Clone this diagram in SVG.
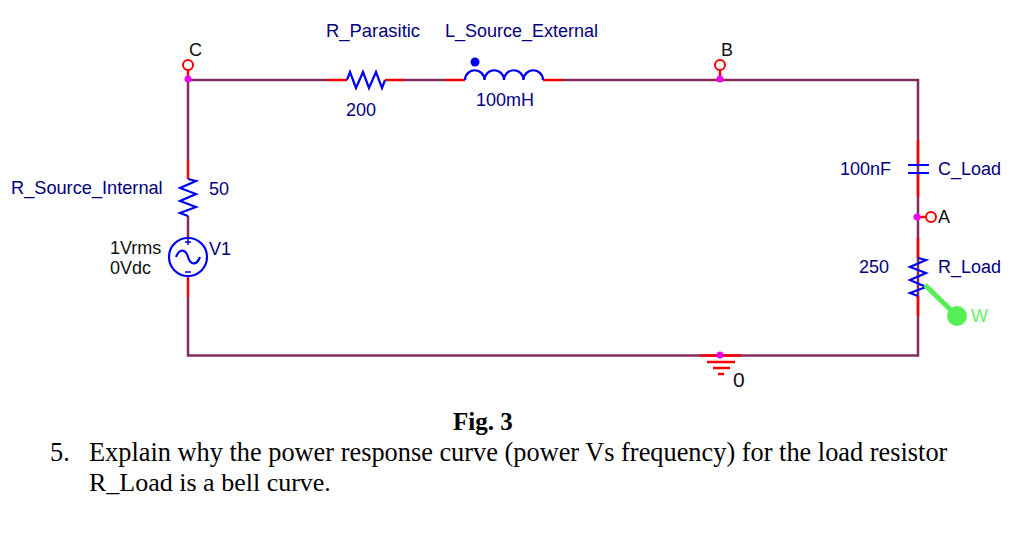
<svg xmlns="http://www.w3.org/2000/svg" width="1024" height="544" viewBox="0 0 1024 544">
<style>
.w{fill:none;stroke:#842a5c;stroke-width:2.500}
.r{fill:none;stroke:#f80000;stroke-width:2.500}
.b{fill:none;stroke:#0000f0;stroke-width:2.200}
.o{fill:#fff;stroke:#f80000;stroke-width:2}
.j{fill:#f000f0;stroke:none}
text{font-family:"Liberation Sans",Arial,sans-serif;font-size:18px}
.n{fill:#000080}
.k{fill:#101010}
.t{font-family:"Liberation Serif","Times New Roman",serif;font-size:26.350px;fill:#000}
</style>
<rect width="1024" height="544" fill="#fff"/>
<g id="connectors">
<path class="w" d="M188 160V80H327M405 80H446M563 80H918V355.500H188V297M188 216V238"/>
<path class="r" d="M327 80H347M385 80H405M446 80H465M543 80H563M188 160V179M188 276V297M918 140V165M918 173V197M918 238V258M918 296V316"/>
</g>
<g id="C"><path class="r" d="M188 69V80"/><circle class="j" cx="188" cy="79" r="3.500"/><circle class="o" cx="188" cy="65" r="5"/><text class="k" x="189" y="56">C</text></g>
<g id="B"><path class="r" d="M720 69V80"/><circle class="j" cx="720" cy="79" r="3.500"/><circle class="o" cx="720" cy="65" r="5"/><text class="k" x="721" y="56">B</text></g>
<g id="R_Parasitic"><path class="b" d="M347 80L350 72L356 88L363 72L369 88L376 72L382 88L385 80"/><text class="n" x="326" y="37" style="font-size:18.400px">R_Parasitic</text><text class="n" x="346" y="116">200</text></g>
<g id="L_Source_External"><path class="b" d="M465 80A9.700 9.700 0 0 1 484.500 80A9.700 9.700 0 0 1 504 80A9.700 9.700 0 0 1 523.500 80A9.700 9.700 0 0 1 543 80"/><circle cx="475" cy="62" r="4.500" fill="#0000f0"/><text class="n" x="445" y="37">L_Source_External</text><text class="n" x="476" y="106">100mH</text></g>
<g id="R_Source_Internal"><path class="b" d="M188 179L196 181L180 188L196 194L180 201L196 207L180 213L188 216"/><text class="n" x="11" y="194" style="font-size:18.200px">R_Source_Internal</text><text class="n" x="209" y="195">50</text></g>
<g id="V1"><circle cx="188" cy="257" r="19" fill="#fff" stroke="#0000f0" stroke-width="2.200"/><path class="b" d="M176 257C180 247 186 250 188 257C190 264 196 267 200 257"/><path class="b" style="stroke-width:1.500" d="M185 242H191M188 239V245M185 272H191"/><text class="k" x="110" y="254">1Vrms</text><text class="k" x="110" y="274">0Vdc</text><text class="n" x="209" y="255">V1</text></g>
<g id="C_Load"><path class="b" d="M908 165H929M908 173H929"/><text class="n" x="840" y="175">100nF</text><text class="n" x="938" y="175">C_Load</text></g>
<g id="A"><path class="r" d="M918 217H926"/><circle class="j" cx="917" cy="217" r="3.500"/><circle class="o" cx="931" cy="217" r="5"/><text class="k" x="938" y="223">A</text></g>
<g id="R_Load"><path class="b" d="M918 258L926 260L910 267L926 273L910 280L926 287L910 293L918 296"/><text class="n" x="859" y="273">250</text><text class="n" x="938" y="273">R_Load</text></g>
<g id="W"><path d="M925 285L957 316" fill="none" stroke="#55ee55" stroke-width="5"/><circle cx="957" cy="316" r="10" fill="#55ee55"/><text x="971" y="322" fill="#66ee66">W</text></g>
<g id="ground"><path class="r" d="M700 355.500H741M707 362H735M713 368H730M718 374H724"/><circle class="j" cx="720" cy="355" r="3.500"/><text class="k" x="733" y="387" style="font-size:21px">0</text></g>
<g id="caption"><text class="t" x="453" y="430" font-weight="bold" style="font-size:25px">Fig. 3</text><text class="t" x="50" y="461">5.</text><text class="t" x="89" y="461">Explain why the power response curve (power Vs frequency) for the load resistor</text><text class="t" x="89" y="491" style="font-size:26px">R_Load is a bell curve.</text></g>
</svg>
